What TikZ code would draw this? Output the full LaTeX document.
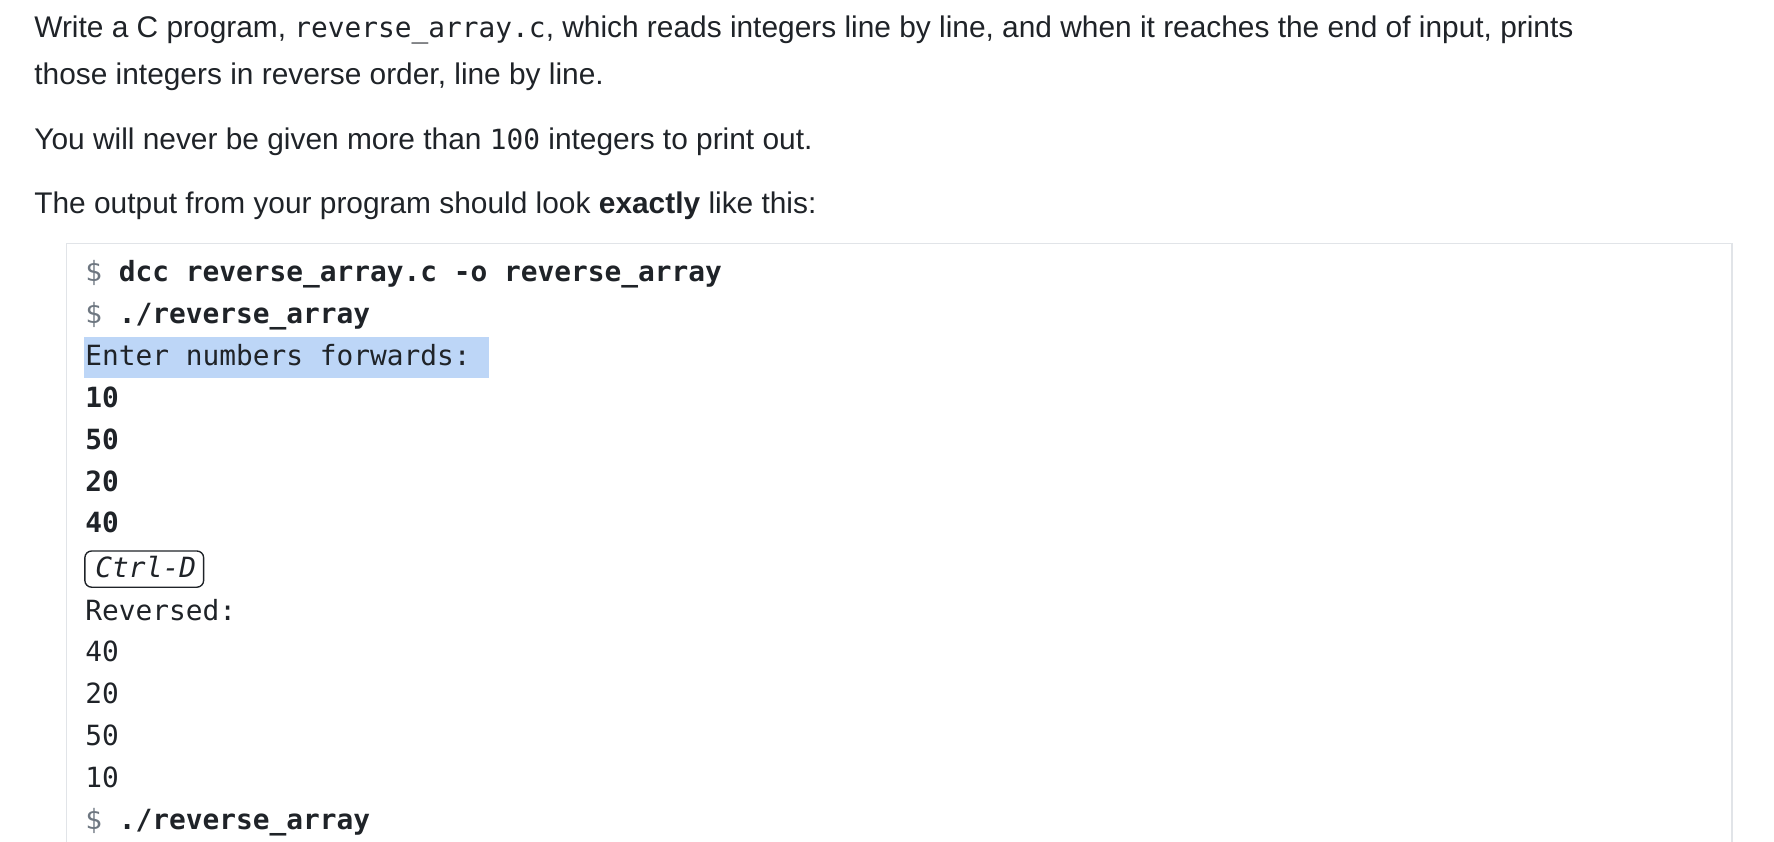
\documentclass[tikz,border=0pt]{standalone}
\usepackage{fontspec}
\setmainfont{Liberation Sans}
\newfontfamily\mono{DejaVu Sans Mono}
\definecolor{hl}{HTML}{BDD6F7}
\definecolor{txt}{HTML}{1F2328}
\definecolor{dollar}{HTML}{6E7781}
\definecolor{bordc}{HTML}{E1E4E8}
\begin{document}
\begin{tikzpicture}[x=0.5pt,y=-0.5pt,
  para/.style={anchor=base west,inner sep=0,font=\fontsize{13.2pt}{16pt}\selectfont,text=txt},
  code/.style={anchor=base west,inner sep=0,font=\fontsize{12.3pt}{15pt}\selectfont\mono,text=txt}]
\useasboundingbox (0,0) rectangle (1568,744);
\begin{scope}
\clip (0,0) rectangle (1568,744);
\draw[bordc,line width=0.6pt] (59,215) rectangle (1531,760);
\end{scope}
\fill[hl] (74,298) rectangle (432,334);
\node[para] (p1) at (30,33) {Write a C program, {\mono\fontsize{12.3pt}{15pt}\selectfont reverse\_array.c}, which reads integers line by line, and when it reaches the end of input, prints};
\node[para] (p2) at (30,75) {those integers in reverse order, line by line.};
\node[para] (p3) at (30,132) {You will never be given more than {\mono\fontsize{12.3pt}{15pt}\selectfont 100} integers to print out.};
\node[para] (p4) at (30,189) {The output from your program should look \textbf{exactly} like this:};
\node[code] (c1) at (75,249) {{\color{dollar}\$} \textbf{dcc reverse\_array.c -o reverse\_array}};
\node[code] (c2) at (75,286) {{\color{dollar}\$} \textbf{./reverse\_array}};
\node[code] (c3) at (75,323) {Enter numbers forwards:};
\node[code] (c4) at (75,360) {\textbf{10}};
\node[code] (c5) at (75,397) {\textbf{50}};
\node[code] (c6) at (75,434) {\textbf{20}};
\node[code] (c7) at (75,471) {\textbf{40}};
\draw[txt,line width=0.6pt,rounded corners=3pt] (75,487) rectangle (180,519);
\node[code] (cd) at (84,510) {\textit{Ctrl-D}};
\node[code] (c8) at (75,548) {Reversed:};
\node[code] (c9) at (75,585) {40};
\node[code] (c10) at (75,622) {20};
\node[code] (c11) at (75,659) {50};
\node[code] (c12) at (75,696) {10};
\node[code] (c13) at (75,733) {{\color{dollar}\$} \textbf{./reverse\_array}};
\end{tikzpicture}
\end{document}
